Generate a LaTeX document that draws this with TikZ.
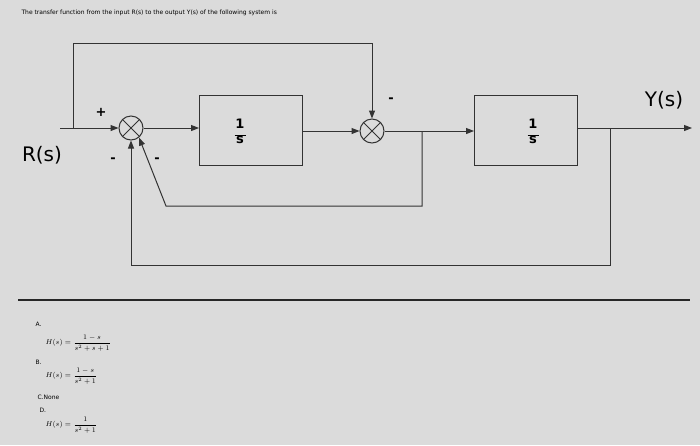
\documentclass[tikz,border=0pt]{standalone}
\usepackage{amsmath}
\usepackage{fontspec}
\setsansfont{DejaVu Sans}
\usetikzlibrary{arrows.meta}
\begin{document}
\begin{tikzpicture}[x=1pt,y=-1pt,
  ln/.style={draw=black!80,line width=1pt},
  arr/.style={ln,-{Triangle[length=8pt,width=6pt]}},
  sumj/.style={circle,draw=black!80,line width=1pt,minimum size=24pt,inner sep=0pt},
  blk/.style={draw=black!80,line width=1pt,minimum width=103pt,minimum height=70pt,inner sep=0pt},
  frac/.style={font=\sffamily\bfseries\fontsize{13}{11}\selectfont,align=center},
  lbl/.style={font=\sffamily\fontsize{20}{22}\selectfont},
  sg/.style={font=\sffamily\bfseries\fontsize{13}{14}\selectfont},
  sm/.style={font=\sffamily\fontsize{6}{7}\selectfont}]
\fill[black!14] (0,0) rectangle (700,445);
\useasboundingbox (0,0) rectangle (700,445);
\node[sm,anchor=west] (title) at (18,13) {The transfer function from the input R(s) to the output Y(s) of the following system is};
\node[sumj] (s1) at (131,128) {};
\draw[ln] (s1.north west)--(s1.south east) (s1.north east)--(s1.south west);
\node[sumj] (s2) at (372,131) {};
\draw[ln] (s2.north west)--(s2.south east) (s2.north east)--(s2.south west);
\node[blk] (b1) at (251,130) {};
\node[frac] (f1) at (240,131) {1\\[-3pt]\rule{11pt}{1.2pt}\\[-4pt]s};
\node[blk] (b2) at (526,130) {};
\node[frac] (f2) at (533,131) {1\\[-3pt]\rule{11pt}{1.2pt}\\[-4pt]s};
\node[lbl] (R) at (42,155) {R(s)};
\node[lbl] (Y) at (664,100) {Y(s)};
\coordinate (in) at (60,128);
\coordinate (tap) at (73,128);
\coordinate (out) at (692,128);
\coordinate (t2) at (422,131);
\coordinate (t3) at (610,128);
\draw[ln] (in)--(tap);
\draw[arr] (tap)--(s1.west);
\draw[arr] (tap)--(73,43)--(372,43)--(s2.north);
\draw[arr] (s1.east)--(b1.west|-s1);
\draw[arr] (b1.east|-s2)--(s2.west);
\draw[arr] (s2.east)--(b2.west|-s2);
\draw[arr] (b2.east|-out)--(out);
\draw[arr] (t2)--(422,206)--(166,206)--(s1.-50);
\draw[arr] (t3)--(610,265)--(s1.south|-0,265)--(s1.south);
\node[sg] at (101,112) {+};
\node[sg] at (113,160) {-};
\node[sg] at (157,160) {-};
\node[sg] at (391,100) {-};
\draw[black!85,line width=1.8pt] (18,300)--(690,300);
\node[sm,anchor=west] (a) at (32,324) {A.};
\node[anchor=west,font=\fontsize{7}{8}\selectfont] (fa) at (42,343) {$H(s)=\dfrac{1-s}{s^2+s+1}$};
\node[sm,anchor=west] (b) at (32,362) {B.};
\node[anchor=west,font=\fontsize{7}{8}\selectfont] (fb) at (42,376) {$H(s)=\dfrac{1-s}{s^2+1}$};
\node[sm,anchor=west] (c) at (34,397) {C.None};
\node[sm,anchor=west] (d) at (36,410) {D.};
\node[anchor=west,font=\fontsize{7}{8}\selectfont] (fd) at (42,425) {$H(s)=\dfrac{1}{s^2+1}$};
\end{tikzpicture}
\end{document}
